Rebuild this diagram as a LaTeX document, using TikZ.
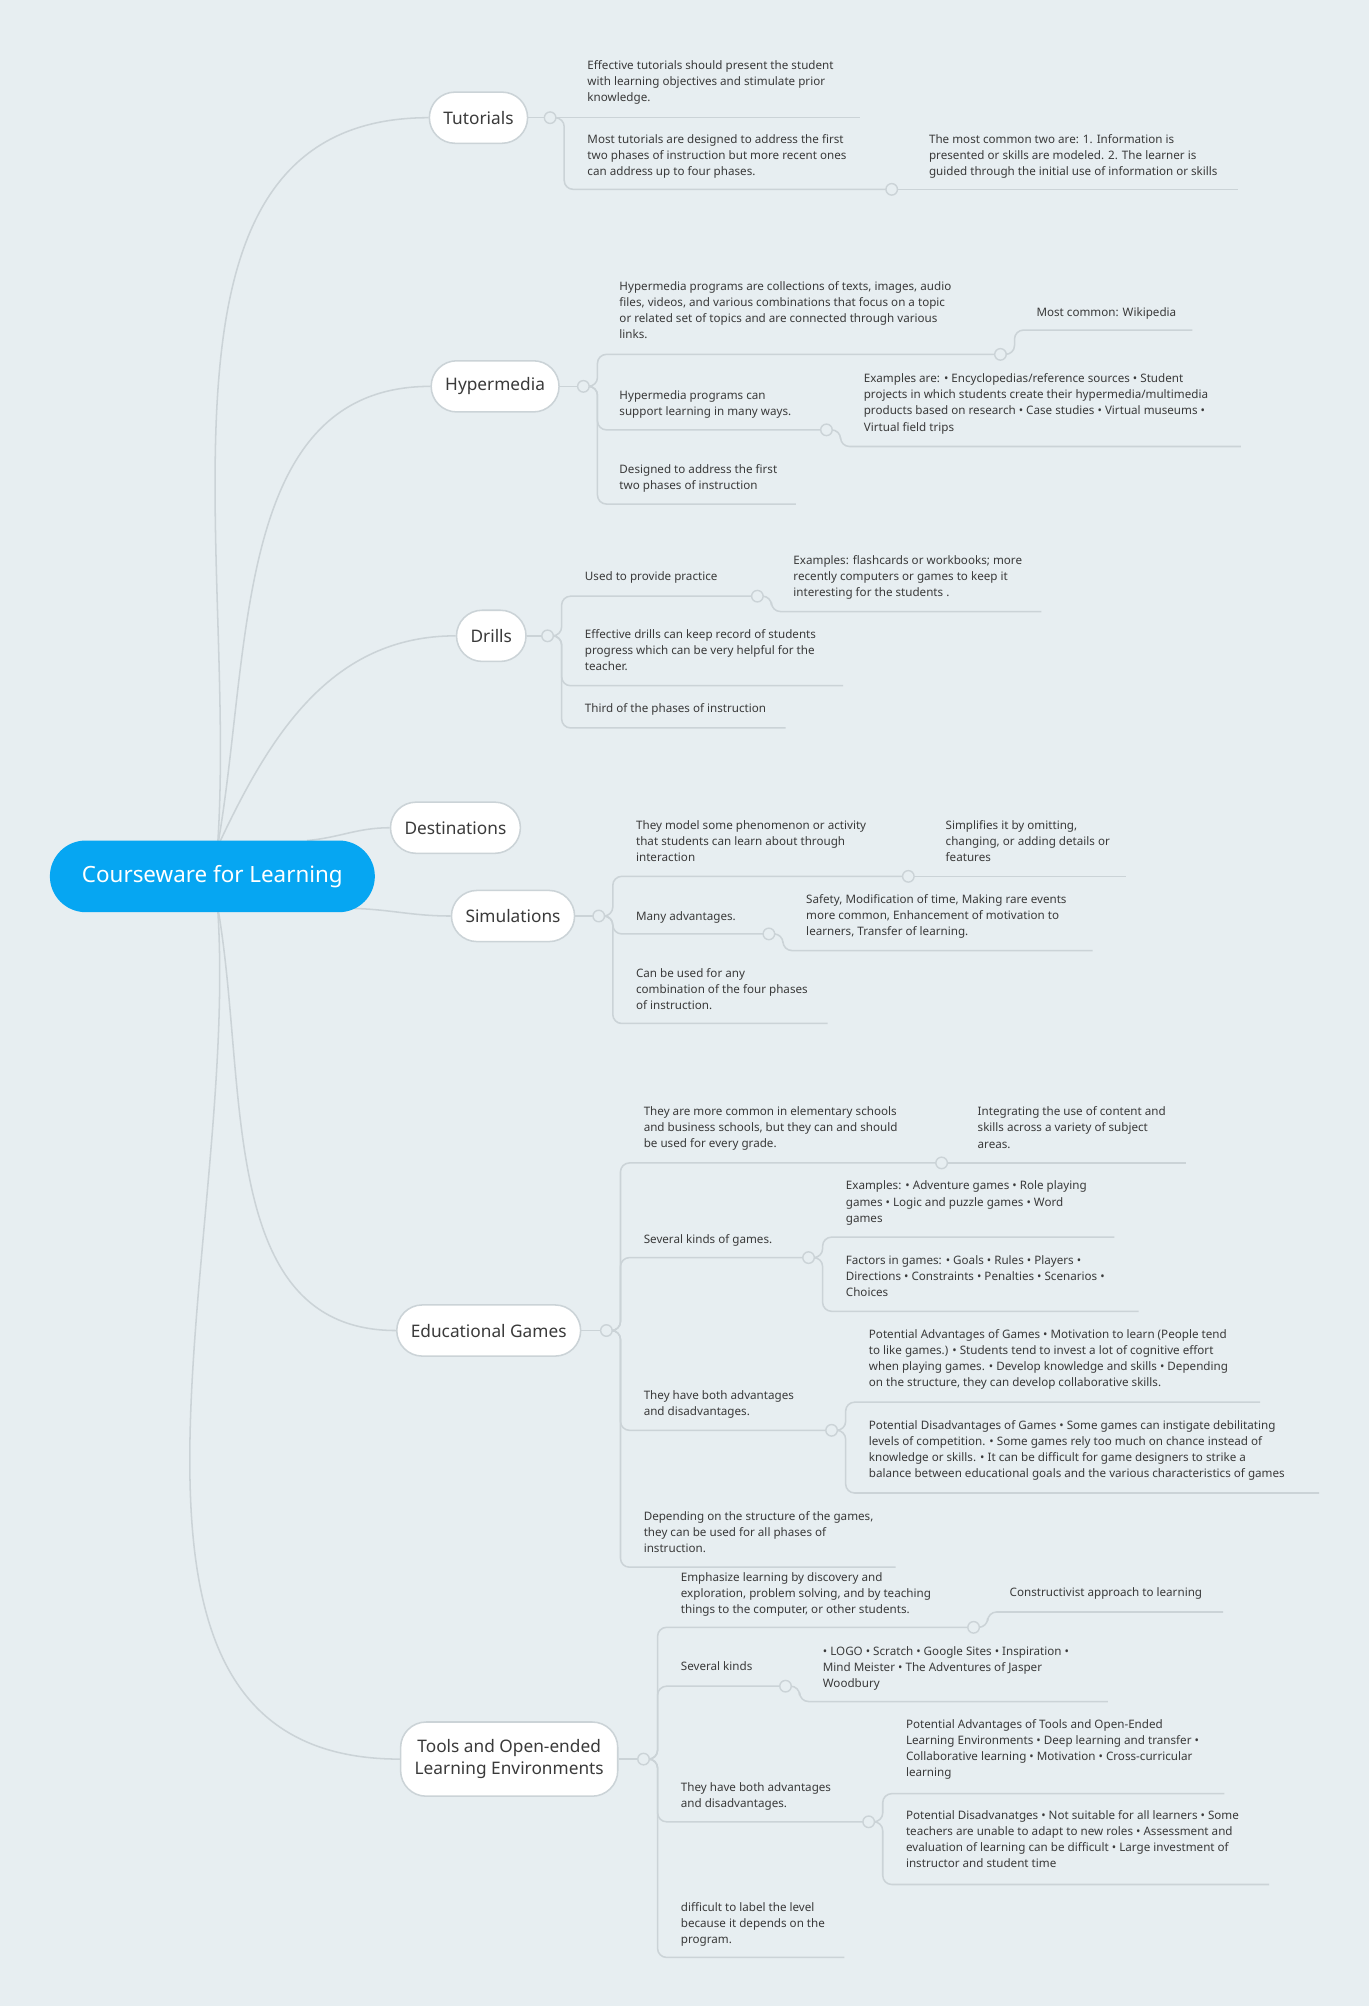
\documentclass[tikz,border=0pt]{standalone}
\usepackage{fontspec}
\setmainfont{Noto Sans}
\definecolor{bg}{HTML}{E7EEF1}
\definecolor{lnc}{HTML}{CBD3D7}
\definecolor{txc}{HTML}{3A3A3A}
\definecolor{rootc}{HTML}{06A6F2}
\tikzset{
 ln/.style={draw=lnc,line width=1.2pt},
 txt/.style={anchor=north west,inner sep=0pt,align=left,text=txc,font=\fontsize{9.1}{12.6}\selectfont},
 topic/.style={draw=lnc,line width=1.2pt,fill=white,rounded corners=20pt,minimum height=40pt,inner xsep=11pt,text=txc,font=\fontsize{13.5}{17}\selectfont,align=center},
 jn/.style={circle,draw=lnc,line width=1.1pt,fill=bg,minimum size=9pt,inner sep=0pt}
}
\newcommand\tx[4]{\node[txt] (#1) at (#2,#3-4) {#4};}
\newcommand\br[5]{\draw[ln,rounded corners=7pt] (#2+5,#3) -- (#2+11,#3) -- (#2+11,#4) -- (#5,#4);}
\newcommand\st[4]{\draw[ln] (#1,#2) -- (#3,#4);}
\begin{document}
\begin{tikzpicture}[x=1pt,y=-1pt]
\fill[bg] (0,0) rectangle (1070,1568);
\useasboundingbox (0,0) rectangle (1070,1568);
% topics
\node[topic] (tut) at (374,92) {Tutorials};
\node[topic] (hyp) at (387,302) {Hypermedia};
\node[topic] (dri) at (384,497) {Drills};
\node[topic] (des) at (356,647) {Destinations};
\node[topic] (sim) at (401,716) {Simulations};
\node[topic] (edu) at (382,1040) {Educational Games};
\node[topic,minimum height=58pt] (too) at (398,1375) {Tools and Open-ended\\Learning Environments};
% root connectors
\coordinate (ru) at (170,662);
\coordinate (rd) at (170,708);
\draw[ln] (ru) to[out=86,in=180] (tut.west);
\draw[ln] (ru) to[out=80,in=180] (hyp.west);
\draw[ln] (ru) to[out=65,in=180] (dri.west);
\draw[ln] (240,657) to[out=5,in=180] (des.west);
\draw[ln] (270,710) to[out=0,in=180] (sim.west);
\draw[ln] (rd) to[out=-80,in=180] (edu.west);
\draw[ln] (rd) to[out=-86,in=180] (too.west);
\node[fill=rootc,rounded corners=28pt,minimum width=254pt,minimum height=56pt,text=white,font=\fontsize{17.5}{20}\selectfont] (root) at (166,685) {Courseware for Learning};
% topic to junction
\foreach \t/\x/\y in {tut/430/92,hyp/456/302,dri/428/497,sim/468/716,edu/474/1040,too/503/1375}{\draw[ln] (\t.east) -- (\x,\y);}
% ---------- Tutorials
\st{435}{92}{672}{92}
\br{t2}{430}{92}{148}{697}
\st{697}{148}{968}{148}
\tx{tut1}{459}{51}{Effective tutorials should present the student\\with learning objectives and stimulate prior\\knowledge.}
\tx{tut2}{459}{109}{Most tutorials are designed to address the first\\two phases of instruction but more recent ones\\can address up to four phases.}
\tx{tut2a}{726}{109}{The most common two are: 1. Information is\\presented or skills are modeled. 2. The learner is\\guided through the initial use of information or skills}
\node[jn] (jt) at (430,92) {};
\node[jn] (jt2) at (697,148) {};
% ---------- Hypermedia
\br{}{456}{302}{277}{782}
\br{}{456}{302}{336}{646}
\br{}{456}{302}{394}{622}
\br{}{782}{277}{258}{932}
\br{}{646}{336}{349}{970}
\tx{h1}{484}{224}{Hypermedia programs are collections of texts, images, audio\\files, videos, and various combinations  that focus on a topic\\or related set of topics and are connected through various\\links.}
\tx{h1a}{810}{244}{Most common: Wikipedia}
\tx{h2}{484}{309}{Hypermedia programs can\\support learning in many ways.}
\tx{h2a}{675}{296}{Examples are: • Encyclopedias/reference sources • Student\\projects in which students create their hypermedia/multimedia\\products based on research • Case studies • Virtual museums •\\Virtual field trips}
\tx{h3}{484}{367}{Designed to address the first\\two phases of instruction}
\node[jn] (jh) at (456,302) {};
\node[jn] (jh1) at (782,277) {};
\node[jn] (jh2) at (646,336) {};
% ---------- Drills
\br{}{428}{497}{466}{592}
\br{}{428}{497}{536}{659}
\br{}{428}{497}{569}{614}
\br{}{592}{466}{478}{814}
\tx{d1}{457}{451}{Used to provide practice}
\tx{d1a}{620}{438}{Examples: flashcards or workbooks; more\\recently computers or games to keep it\\interesting for the students .}
\tx{d2}{457}{496}{Effective drills can keep record of students\\progress which can be very helpful for the\\teacher.}
\tx{d3}{457}{554}{Third of the phases of instruction}
\node[jn] (jd) at (428,497) {};
\node[jn] (jd1) at (592,466) {};
% ---------- Simulations
\br{}{468}{716}{685}{710}
\st{710}{685}{880}{685}
\br{}{468}{716}{730}{601}
\br{}{468}{716}{800}{647}
\br{}{601}{730}{743}{854}
\tx{s1}{497}{645}{They model some phenomenon or activity\\that students can learn about through\\interaction}
\tx{s1a}{739}{645}{Simplifies it by omitting,\\changing, or adding details or\\features}
\tx{s2}{497}{716}{Many advantages.}
\tx{s2a}{630}{703}{Safety, Modification of time, Making rare events\\more common, Enhancement of motivation to\\learners, Transfer of learning.}
\tx{s3}{497}{761}{Can be used for any\\combination of the four phases\\of instruction.}
\node[jn] (js) at (468,716) {};
\node[jn] (js1) at (710,685) {};
\node[jn] (js2) at (601,730) {};
% ---------- Educational Games
\br{}{474}{1040}{909}{736}
\st{736}{909}{927}{909}
\br{}{474}{1040}{983}{632}
\br{}{474}{1040}{1118}{650}
\br{}{474}{1040}{1225}{700}
\br{}{632}{983}{967}{871}
\br{}{632}{983}{1025}{890}
\br{}{650}{1118}{1096}{985}
\br{}{650}{1118}{1167}{1031}
\tx{e1}{503}{869}{They are more common in elementary schools\\and business schools, but they can and should\\be used for every grade.}
\tx{e1a}{764}{869}{Integrating the use of content and\\skills across a variety of subject\\areas.}
\tx{e2}{503}{969}{Several kinds of games.}
\tx{e2a}{661}{927}{Examples:  • Adventure games • Role playing\\games • Logic and puzzle games • Word\\games}
\tx{e2b}{661}{985}{Factors in games: • Goals • Rules • Players •\\Directions • Constraints • Penalties • Scenarios •\\Choices}
\tx{e3}{503}{1091}{They have both advantages\\and disadvantages.}
\tx{e3a}{679}{1043}{Potential Advantages of Games • Motivation to learn (People tend\\to like games.) • Students tend to invest a lot of cognitive effort\\when playing games. • Develop knowledge and skills • Depending\\on the structure, they can develop collaborative skills.}
\tx{e3b}{679}{1114}{Potential Disadvantages of Games • Some games can instigate debilitating\\levels of competition. • Some games rely too much on chance instead of\\knowledge or skills. • It can be difficult for game designers to strike a\\balance between educational goals and the various characteristics of games}
\tx{e4}{503}{1185}{Depending on the structure of the games,\\they can be used for all phases of\\instruction.}
\node[jn] (je) at (474,1040) {};
\node[jn] (je1) at (736,909) {};
\node[jn] (je2) at (632,983) {};
\node[jn] (je3) at (650,1118) {};
% ---------- Tools
\br{}{503}{1375}{1272}{761}
\br{}{503}{1375}{1318}{614}
\br{}{503}{1375}{1424}{679}
\br{}{503}{1375}{1530}{660}
\br{}{761}{1272}{1260}{956}
\br{}{614}{1318}{1330}{866}
\br{}{679}{1424}{1402}{957}
\br{}{679}{1424}{1473}{992}
\tx{o1}{532}{1233}{Emphasize learning by discovery and\\exploration, problem solving, and by teaching\\things to the computer, or other students.}
\tx{o1a}{789}{1245}{Constructivist approach to learning}
\tx{o2}{532}{1303}{Several kinds}
\tx{o2a}{643}{1291}{• LOGO • Scratch • Google Sites • Inspiration •\\Mind Meister  • The Adventures of Jasper\\Woodbury}
\tx{o3}{532}{1397}{They have both advantages\\and disadvantages.}
\tx{o3a}{708}{1348}{Potential Advantages of Tools and Open-Ended\\Learning Environments • Deep learning and transfer •\\Collaborative learning • Motivation • Cross-curricular\\learning}
\tx{o3b}{708}{1419}{Potential Disadvanatges • Not suitable for all learners • Some\\teachers are unable to adapt to new roles • Assessment and\\evaluation of learning can be difficult • Large investment of\\instructor and student time}
\tx{o4}{532}{1491}{difficult to label the level\\because it depends on the\\program.}
\node[jn] (jo) at (503,1375) {};
\node[jn] (jo1) at (761,1272) {};
\node[jn] (jo2) at (614,1318) {};
\node[jn] (jo3) at (679,1424) {};
\end{tikzpicture}
\end{document}
